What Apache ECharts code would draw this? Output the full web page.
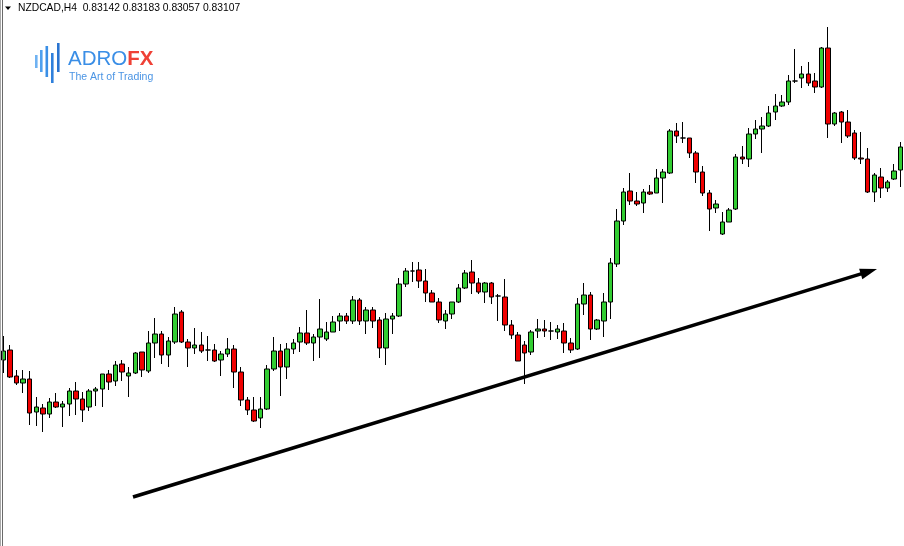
<!DOCTYPE html>
<html><head><meta charset="utf-8">
<script src="https://cdn.jsdelivr.net/npm/echarts@6/dist/echarts.min.js"></script>
<style>html,body{margin:0;padding:0;background:#fff}#c{width:904px;height:546px}</style>
</head><body><div id="c"></div>
<script>
const symbolTitle = 'NZDCAD,H4';
const headerQuote = ['0.83142', '0.83183', '0.83057', '0.83107'];
const opens = [
0.82045,0.82095,0.81965,0.81930,0.81950,0.81785,0.81805,0.81775,0.81835,0.81810,
0.81825,0.81890,0.81850,0.81810,0.81890,0.81900,0.81975,0.81940,0.82025,0.81965,
0.81980,0.82085,0.81990,0.82130,0.82175,0.82070,0.82135,0.82285,0.82135,0.82105,
0.82120,0.82095,0.82095,0.82045,0.82075,0.82100,0.81985,0.81845,0.81795,0.81755,
0.81800,0.82000,0.82090,0.82010,0.82100,0.82135,0.82180,0.82130,0.82160,0.82150,
0.82185,0.82240,0.82265,0.82240,0.82345,0.82240,0.82295,0.82245,0.82105,0.82250,
0.82265,0.82425,0.82490,0.82495,0.82440,0.82380,0.82335,0.82240,0.82275,0.82335,
0.82405,0.82485,0.82430,0.82385,0.82430,0.82365,0.82360,0.82220,0.82170,0.82120,
0.82085,0.82190,0.82200,0.82190,0.82185,0.82190,0.82130,0.82100,0.82325,0.82370,
0.82200,0.82240,0.82335,0.82525,0.82740,0.82890,0.82840,0.82830,0.82885,0.82880,
0.82955,0.82980,0.83190,0.83155,0.83155,0.83080,0.82985,0.82880,0.82805,0.82675,
0.82735,0.82800,0.83060,0.83050,0.83175,0.83200,0.83215,0.83285,0.83315,0.83335,
0.83440,0.83455,0.83475,0.83440,0.83410,0.83605,0.83225,0.83285,0.83235,0.83180,
0.83055,0.83050,0.82885,0.82960,0.82905,0.82950,0.82995];
const closes = [
0.82090,0.81960,0.81930,0.81950,0.81780,0.81810,0.81775,0.81835,0.81810,0.81825,
0.81890,0.81850,0.81795,0.81890,0.81900,0.81975,0.81935,0.82020,0.81985,0.81980,
0.82080,0.81995,0.82130,0.82175,0.82070,0.82140,0.82275,0.82135,0.82105,0.82120,
0.82090,0.82095,0.82040,0.82075,0.82100,0.81985,0.81845,0.81795,0.81740,0.81800,
0.82000,0.82090,0.82010,0.82100,0.82130,0.82180,0.82130,0.82160,0.82200,0.82185,
0.82235,0.82265,0.82240,0.82345,0.82240,0.82295,0.82240,0.82105,0.82250,0.82265,
0.82425,0.82490,0.82490,0.82440,0.82380,0.82335,0.82245,0.82275,0.82335,0.82405,
0.82480,0.82430,0.82385,0.82430,0.82360,0.82365,0.82220,0.82170,0.82040,0.82080,
0.82185,0.82200,0.82190,0.82190,0.82200,0.82130,0.82095,0.82325,0.82370,0.82200,
0.82245,0.82335,0.82530,0.82740,0.82885,0.82840,0.82825,0.82885,0.82875,0.82955,
0.82985,0.83190,0.83165,0.83155,0.83080,0.82985,0.82880,0.82800,0.82825,0.82735,
0.82795,0.83060,0.83050,0.83175,0.83200,0.83215,0.83280,0.83315,0.83335,0.83440,
0.83440,0.83475,0.83430,0.83410,0.83605,0.83225,0.83280,0.83235,0.83165,0.83055,
0.83050,0.82885,0.82970,0.82905,0.82935,0.82990,0.83110];
const lows = [
0.81980,0.81955,0.81920,0.81880,0.81720,0.81715,0.81685,0.81755,0.81805,0.81710,
0.81765,0.81770,0.81735,0.81790,0.81815,0.81810,0.81895,0.81915,0.81940,0.81860,
0.81975,0.81960,0.81980,0.82055,0.82025,0.82010,0.82125,0.82130,0.82010,0.82075,
0.82080,0.82040,0.82035,0.81965,0.82060,0.81905,0.81815,0.81770,0.81735,0.81705,
0.81795,0.81990,0.81865,0.81950,0.82075,0.82085,0.82120,0.82040,0.82055,0.82140,
0.82185,0.82190,0.82225,0.82225,0.82220,0.82175,0.82205,0.82055,0.82020,0.82175,
0.82260,0.82410,0.82435,0.82405,0.82335,0.82335,0.82230,0.82200,0.82250,0.82330,
0.82400,0.82375,0.82375,0.82330,0.82325,0.82240,0.82190,0.82150,0.82040,0.81925,
0.82070,0.82155,0.82160,0.82145,0.82150,0.82080,0.82080,0.82095,0.82270,0.82145,
0.82195,0.82160,0.82250,0.82510,0.82720,0.82820,0.82815,0.82780,0.82870,0.82880,
0.82830,0.82975,0.83130,0.83130,0.83055,0.82930,0.82865,0.82690,0.82780,0.82670,
0.82735,0.82795,0.83025,0.83010,0.83150,0.83080,0.83210,0.83245,0.83310,0.83320,
0.83430,0.83405,0.83415,0.83380,0.83405,0.83155,0.83215,0.83130,0.83155,0.83045,
0.83025,0.82880,0.82835,0.82855,0.82885,0.82945,0.82910];
const highs = [
0.82165,0.82120,0.81995,0.81995,0.81990,0.81860,0.81825,0.81855,0.81880,0.81840,
0.81905,0.81935,0.81885,0.81900,0.81910,0.81975,0.81995,0.82040,0.82045,0.82010,
0.82085,0.82085,0.82190,0.82255,0.82190,0.82160,0.82310,0.82295,0.82150,0.82205,
0.82185,0.82165,0.82125,0.82090,0.82155,0.82120,0.82010,0.81860,0.81860,0.81860,
0.82020,0.82160,0.82125,0.82130,0.82150,0.82210,0.82295,0.82175,0.82350,0.82235,
0.82265,0.82280,0.82280,0.82365,0.82355,0.82310,0.82310,0.82260,0.82280,0.82280,
0.82455,0.82505,0.82535,0.82535,0.82500,0.82395,0.82355,0.82295,0.82335,0.82425,
0.82495,0.82545,0.82455,0.82435,0.82435,0.82375,0.82450,0.82245,0.82185,0.82140,
0.82195,0.82250,0.82245,0.82235,0.82220,0.82230,0.82155,0.82355,0.82430,0.82385,
0.82250,0.82380,0.82555,0.82800,0.82905,0.82980,0.82885,0.82900,0.82920,0.83000,
0.83000,0.83200,0.83230,0.83235,0.83155,0.83090,0.83015,0.82895,0.82845,0.82785,
0.82805,0.83075,0.83115,0.83205,0.83245,0.83260,0.83315,0.83375,0.83370,0.83470,
0.83600,0.83515,0.83535,0.83480,0.83610,0.83710,0.83285,0.83290,0.83295,0.83195,
0.83185,0.83105,0.82980,0.83005,0.82945,0.83025,0.83135];
const categories = opens.map((_, i) => 'H4 #' + (i + 1));
const ohlc = opens.map((o, i) => [o, closes[i], lows[i], highs[i]]);

const chart = echarts.init(document.getElementById('c'), null, {renderer: 'canvas'});
// arrow annotation geometry
const ax0 = 133, ay0 = 497, ax1 = 877, ay1 = 269;
const dx = ax1 - ax0, dy = ay1 - ay0, L = Math.hypot(dx, dy);
const ux = dx / L, uy = dy / L, nx = -uy, ny = ux;
const hl = 17, hw = 5.5;
const bx = ax1 - ux * hl, by = ay1 - uy * hl;

chart.setOption({
  animation: false,
  backgroundColor: '#ffffff',
  grid: {left: 0, top: 0, width: 906, height: 546, containLabel: false},
  xAxis: {type: 'category', data: categories, boundaryGap: true, show: false},
  yAxis: {type: 'value', min: 0.81115, max: 0.83845, show: false, splitLine: {show: false}},
  series: [{
    type: 'candlestick',
    data: ohlc,
    barWidth: 5,
    itemStyle: {
      color: '#32CD32', color0: '#F00000',
      borderColor: '#000000', borderColor0: '#000000', borderColorDoji: '#000000',
      borderWidth: 1
    }
  }],
  graphic: [
    {type: 'line', shape: {x1: 0.5, y1: 0, x2: 0.5, y2: 546}, style: {stroke: '#a8a8a8', lineWidth: 1}, z: 100},
    {type: 'line', shape: {x1: 2.5, y1: 0, x2: 2.5, y2: 546}, style: {stroke: '#6a6a6a', lineWidth: 1}, z: 100},
    {type: 'polygon', shape: {points: [[5, 6.5], [11, 6.5], [8, 10]]}, style: {fill: '#000'}, z: 100},
    {type: 'text', left: 18, top: 3, z: 100,
      style: {text: symbolTitle + '  ' + headerQuote.join(' '), fill: '#000', font: '10.3px "Liberation Sans", Arial, sans-serif'}},
    // logo icon bars
    {type: 'rect', shape: {x: 35, y: 55, width: 2.6, height: 13}, style: {fill: '#6fb2f2'}, z: 100},
    {type: 'rect', shape: {x: 40, y: 50, width: 2.6, height: 22}, style: {fill: '#4fa0ee'}, z: 100},
    {type: 'rect', shape: {x: 45.5, y: 46, width: 2.6, height: 31}, style: {fill: '#3a8fe6'}, z: 100},
    {type: 'rect', shape: {x: 51, y: 53, width: 2.6, height: 30}, style: {fill: '#2f80dc'}, z: 100},
    {type: 'rect', shape: {x: 57, y: 43, width: 2.6, height: 29}, style: {fill: '#2a74d0'}, z: 100},
    {type: 'text', left: 68, top: 49, z: 100,
      style: {rich: {a: {fill: '#3a8ee6', font: '20.5px "Liberation Sans", Arial, sans-serif'}, b: {fill: '#ef4136', font: 'bold 20.5px "Liberation Sans", Arial, sans-serif'}}, text: '{a|ADRO}{b|FX}'}},
    {type: 'text', left: 69, top: 72, z: 100,
      style: {text: 'The Art of Trading', fill: '#4a94e4', font: '10.5px "Liberation Sans", Arial, sans-serif'}},
    // trend arrow
    {type: 'line', shape: {x1: ax0, y1: ay0, x2: bx + ux * 2, y2: by + uy * 2}, style: {stroke: '#000', lineWidth: 3.6}, z: 90},
    {type: 'polygon', shape: {points: [[ax1, ay1], [bx + nx * hw, by + ny * hw], [bx - nx * hw, by - ny * hw]]}, style: {fill: '#000'}, z: 90}
  ]
});
</script></body></html>
